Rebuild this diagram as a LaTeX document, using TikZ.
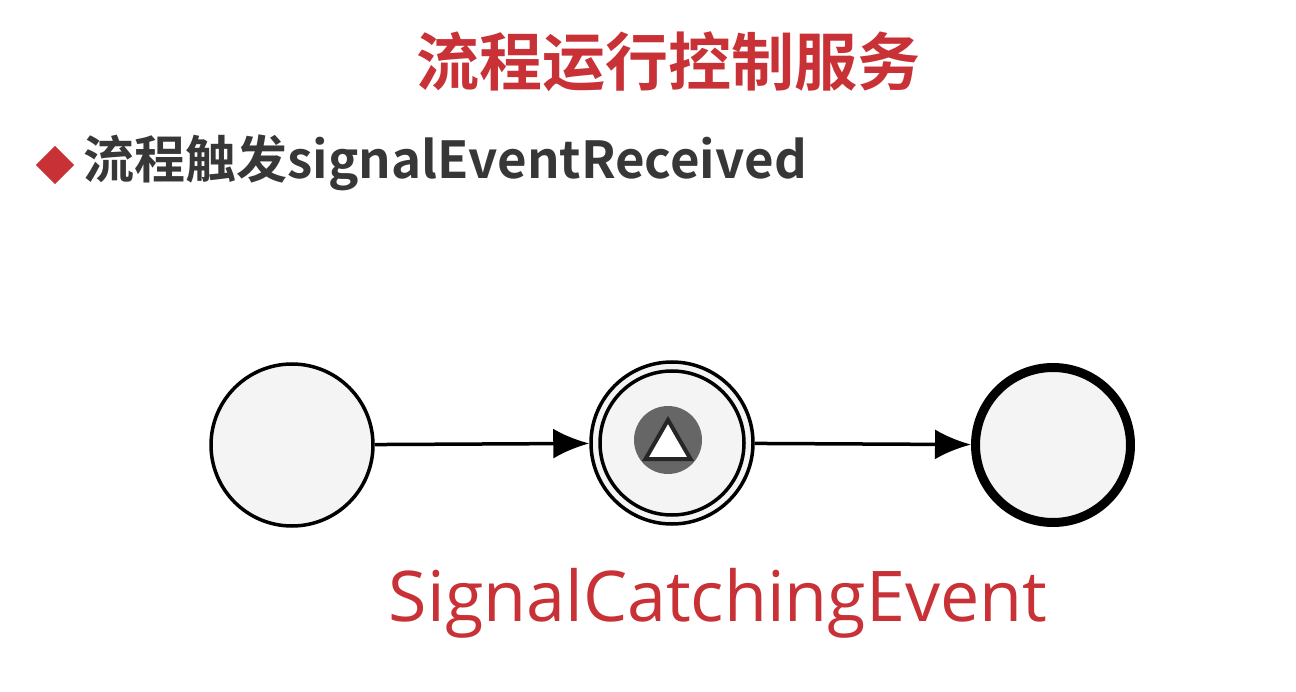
\documentclass[tikz,border=0pt]{standalone}
\usepackage{fontspec}
\setmainfont{Open Sans}
\newfontfamily\cjk{Noto Sans CJK SC}[BoldFont={Noto Sans CJK SC Bold}]
\usetikzlibrary{arrows.meta,shapes.geometric}
\definecolor{myred}{RGB}{200,50,55}
\definecolor{mygray}{RGB}{55,55,55}
\definecolor{fillc}{RGB}{244,244,244}
\begin{document}
\begin{tikzpicture}[x=1pt,y=-1pt,
  ev/.style={circle,draw=black,fill=fillc,line width=3.5pt,minimum size=162pt,inner sep=0pt},
  flow/.style={line width=3.5pt,-{Latex[length=36pt,width=30pt]}}]
\useasboundingbox (0,0) rectangle (1296,692);
\fill[white] (0,0) rectangle (1296,692);
\node[text=myred,font=\cjk\bfseries\fontsize{63}{70}\selectfont] (title) at (668,62) {流程运行控制服务};
\node[fill=myred,rotate=45,minimum size=27pt,inner sep=0pt] (bul) at (55,165) {};
\node[anchor=west,text=mygray,font=\cjk\bfseries\fontsize{51}{58}\selectfont] (sub) at (80,163) {流程触发signalEventReceived};
\node[ev] (s) at (292,445) {};
\node[ev] (c) at (672,443) {};
\draw[line width=3.5pt] (c.center) circle (72pt);
\node[ev,line width=9pt,minimum size=155pt] (e) at (1053,445) {};
\fill[white] (1135,350) rectangle (1296,540);
\fill[black!60] (668,440) circle (34pt);
\node[draw=black!85,fill=white,line width=4pt,regular polygon,regular polygon sides=3,minimum size=52pt,inner sep=0pt] (tri) at (668,446) {};
\draw[flow] (s) -- (c);
\draw[flow] (c) -- (e);
\node[text=myred,font=\fontsize{70}{78}\selectfont] (lab) at (718,603) {SignalCatchingEvent};
\end{tikzpicture}
\end{document}
